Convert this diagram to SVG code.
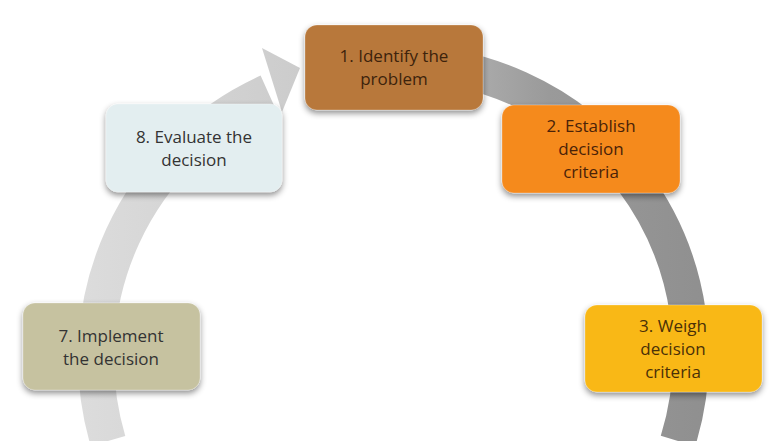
<svg xmlns="http://www.w3.org/2000/svg" width="784" height="441" viewBox="0 0 784 441">
<defs>
<linearGradient id="g" x1="0" y1="0" x2="784" y2="0" gradientUnits="userSpaceOnUse">
<stop offset="0" stop-color="#e2e2e2"/><stop offset="0.45" stop-color="#c8c8c8"/><stop offset="0.7" stop-color="#9a9a9a"/><stop offset="1" stop-color="#8a8a8a"/>
</linearGradient>
<filter id="sh" x="-20%" y="-20%" width="140%" height="150%"><feDropShadow dx="0" dy="3" stdDeviation="3" flood-color="#000" flood-opacity="0.45"/></filter>
</defs>
<style>
.b{filter:url(#sh);stroke:#fff;stroke-opacity:0.25;stroke-width:1}
text{font-family:"Open Sans","Liberation Sans",sans-serif;font-size:17px;text-anchor:middle}
</style>
<rect width="784" height="441" fill="#fff"/>
<g id="connectors">
<path d="M 108 441 A 292 292 0 0 1 268 92" fill="none" stroke="url(#g)" stroke-width="36"/>
<polygon points="262,48 300,68 282,112" fill="url(#g)"/>
<path d="M 393 63 A 292 292 0 0 1 678 441" fill="none" stroke="url(#g)" stroke-width="36"/>
</g>
<g id="n1"><rect class="b" x="305" y="25" width="178" height="85" rx="12" fill="#b8783a"/>
<text fill="#3d230c"><tspan x="394" y="62">1. Identify the</tspan><tspan x="394" y="85">problem</tspan></text></g>
<g id="n2"><rect class="b" x="502" y="105" width="178" height="88" rx="12" fill="#f58a1f"/>
<text fill="#4a2208"><tspan x="591" y="132">2. Establish</tspan><tspan x="591" y="155">decision</tspan><tspan x="591" y="178">criteria</tspan></text></g>
<g id="n3"><rect class="b" x="585" y="305" width="177" height="87" rx="12" fill="#f9b814"/>
<text fill="#4a3008"><tspan x="673" y="332">3. Weigh</tspan><tspan x="673" y="355">decision</tspan><tspan x="673" y="378">criteria</tspan></text></g>
<g id="n8"><rect class="b" x="106" y="104" width="176" height="88" rx="12" fill="#e3eef0"/>
<text fill="#333"><tspan x="194" y="143">8. Evaluate the</tspan><tspan x="194" y="166">decision</tspan></text></g>
<g id="n7"><rect class="b" x="23" y="303" width="177" height="87" rx="12" fill="#c6c2a0"/>
<text fill="#333"><tspan x="111" y="342">7. Implement</tspan><tspan x="111" y="365">the decision</tspan></text></g>
</svg>
